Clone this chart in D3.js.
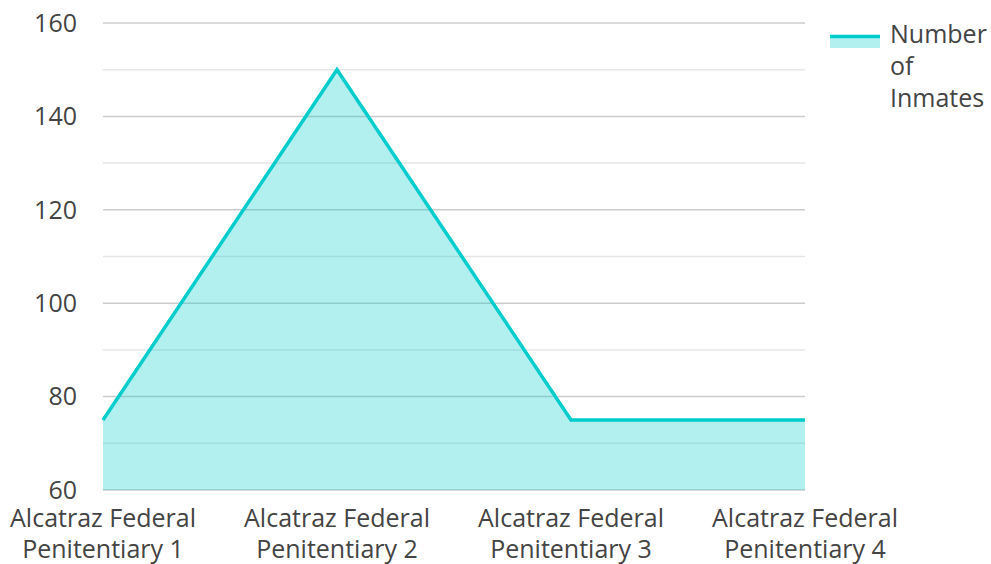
<!DOCTYPE html>
<html>
<head>
    <meta charset="utf-8">
    <script src="https://cdnjs.cloudflare.com/ajax/libs/d3/7.8.5/d3.min.js"></script>
    <style>
        body { margin: 0; background: #fff; overflow: hidden; }
        svg text { font-family: "Open Sans", "Noto Sans", sans-serif; fill: #444; }
    </style>
</head>
<body>
    <div id="chart"></div>
    <script>
        var categories = [
            ["Alcatraz Federal", "Penitentiary 1"],
            ["Alcatraz Federal", "Penitentiary 2"],
            ["Alcatraz Federal", "Penitentiary 3"],
            ["Alcatraz Federal", "Penitentiary 4"]
        ];
        var inmates = [75, 150, 75, 75];
        var yTicks = [60, 80, 100, 120, 140, 160];
        var yMinor = [70, 90, 110, 130, 150];
        var legendLines = ["Number", "of", "Inmates"];

        var width = 991, height = 564;
        var margin = { top: 23, right: 186, bottom: 74, left: 103 };
        var lineColor = "#00cccc";
        var fontSize = 25;

        var svg = d3.select("#chart").append("svg")
            .attr("width", width).attr("height", height);

        var x = d3.scalePoint()
            .domain(d3.range(categories.length))
            .range([margin.left, width - margin.right]);
        var y = d3.scaleLinear()
            .domain([60, 160])
            .range([height - margin.bottom, margin.top]);

        // grid
        var grid = svg.append("g");
        grid.selectAll(".minor").data(yMinor).enter().append("line")
            .attr("x1", margin.left).attr("x2", width - margin.right)
            .attr("y1", d => y(d)).attr("y2", d => y(d))
            .attr("stroke", "#e6e6e6").attr("stroke-width", 1.5);
        grid.selectAll(".major").data(yTicks).enter().append("line")
            .attr("x1", margin.left).attr("x2", width - margin.right)
            .attr("y1", d => y(d)).attr("y2", d => y(d))
            .attr("stroke", "#cccccc").attr("stroke-width", 1.5);

        // area + line
        var area = d3.area()
            .x((d, i) => x(i))
            .y0(y(60))
            .y1(d => y(d));
        var line = d3.line()
            .x((d, i) => x(i))
            .y(d => y(d));

        svg.append("path").datum(inmates)
            .attr("d", area)
            .attr("fill", lineColor).attr("fill-opacity", 0.3);
        svg.append("path").datum(inmates)
            .attr("d", line)
            .attr("fill", "none")
            .attr("stroke", lineColor).attr("stroke-width", 3.5)
            .attr("stroke-linejoin", "miter");

        // y axis labels
        svg.append("g").selectAll("text").data(yTicks).enter().append("text")
            .attr("x", margin.left - 26)
            .attr("y", d => y(d))
            .attr("dy", "0.35em")
            .attr("text-anchor", "end")
            .attr("font-size", fontSize)
            .text(d => d);

        // x axis labels
        var xl = svg.append("g").selectAll("text").data(categories).enter().append("text")
            .attr("text-anchor", "middle")
            .attr("font-size", fontSize);
        xl.selectAll("tspan").data((d, i) => d.map(t => ({ t: t, i: i }))).enter().append("tspan")
            .attr("x", d => x(d.i))
            .attr("y", (d, j) => 527 + j * 31)
            .text(d => d.t);

        // legend
        var lg = svg.append("g");
        lg.append("rect")
            .attr("x", 830).attr("y", 35).attr("width", 50).attr("height", 13)
            .attr("fill", lineColor).attr("fill-opacity", 0.3);
        lg.append("line")
            .attr("x1", 830).attr("x2", 880).attr("y1", 36.5).attr("y2", 36.5)
            .attr("stroke", lineColor).attr("stroke-width", 3.5);
        lg.append("text")
            .attr("font-size", fontSize)
            .selectAll("tspan").data(legendLines).enter().append("tspan")
            .attr("x", 890)
            .attr("y", (d, i) => 43 + i * 32)
            .text(d => d);
    </script>
</body>
</html>
